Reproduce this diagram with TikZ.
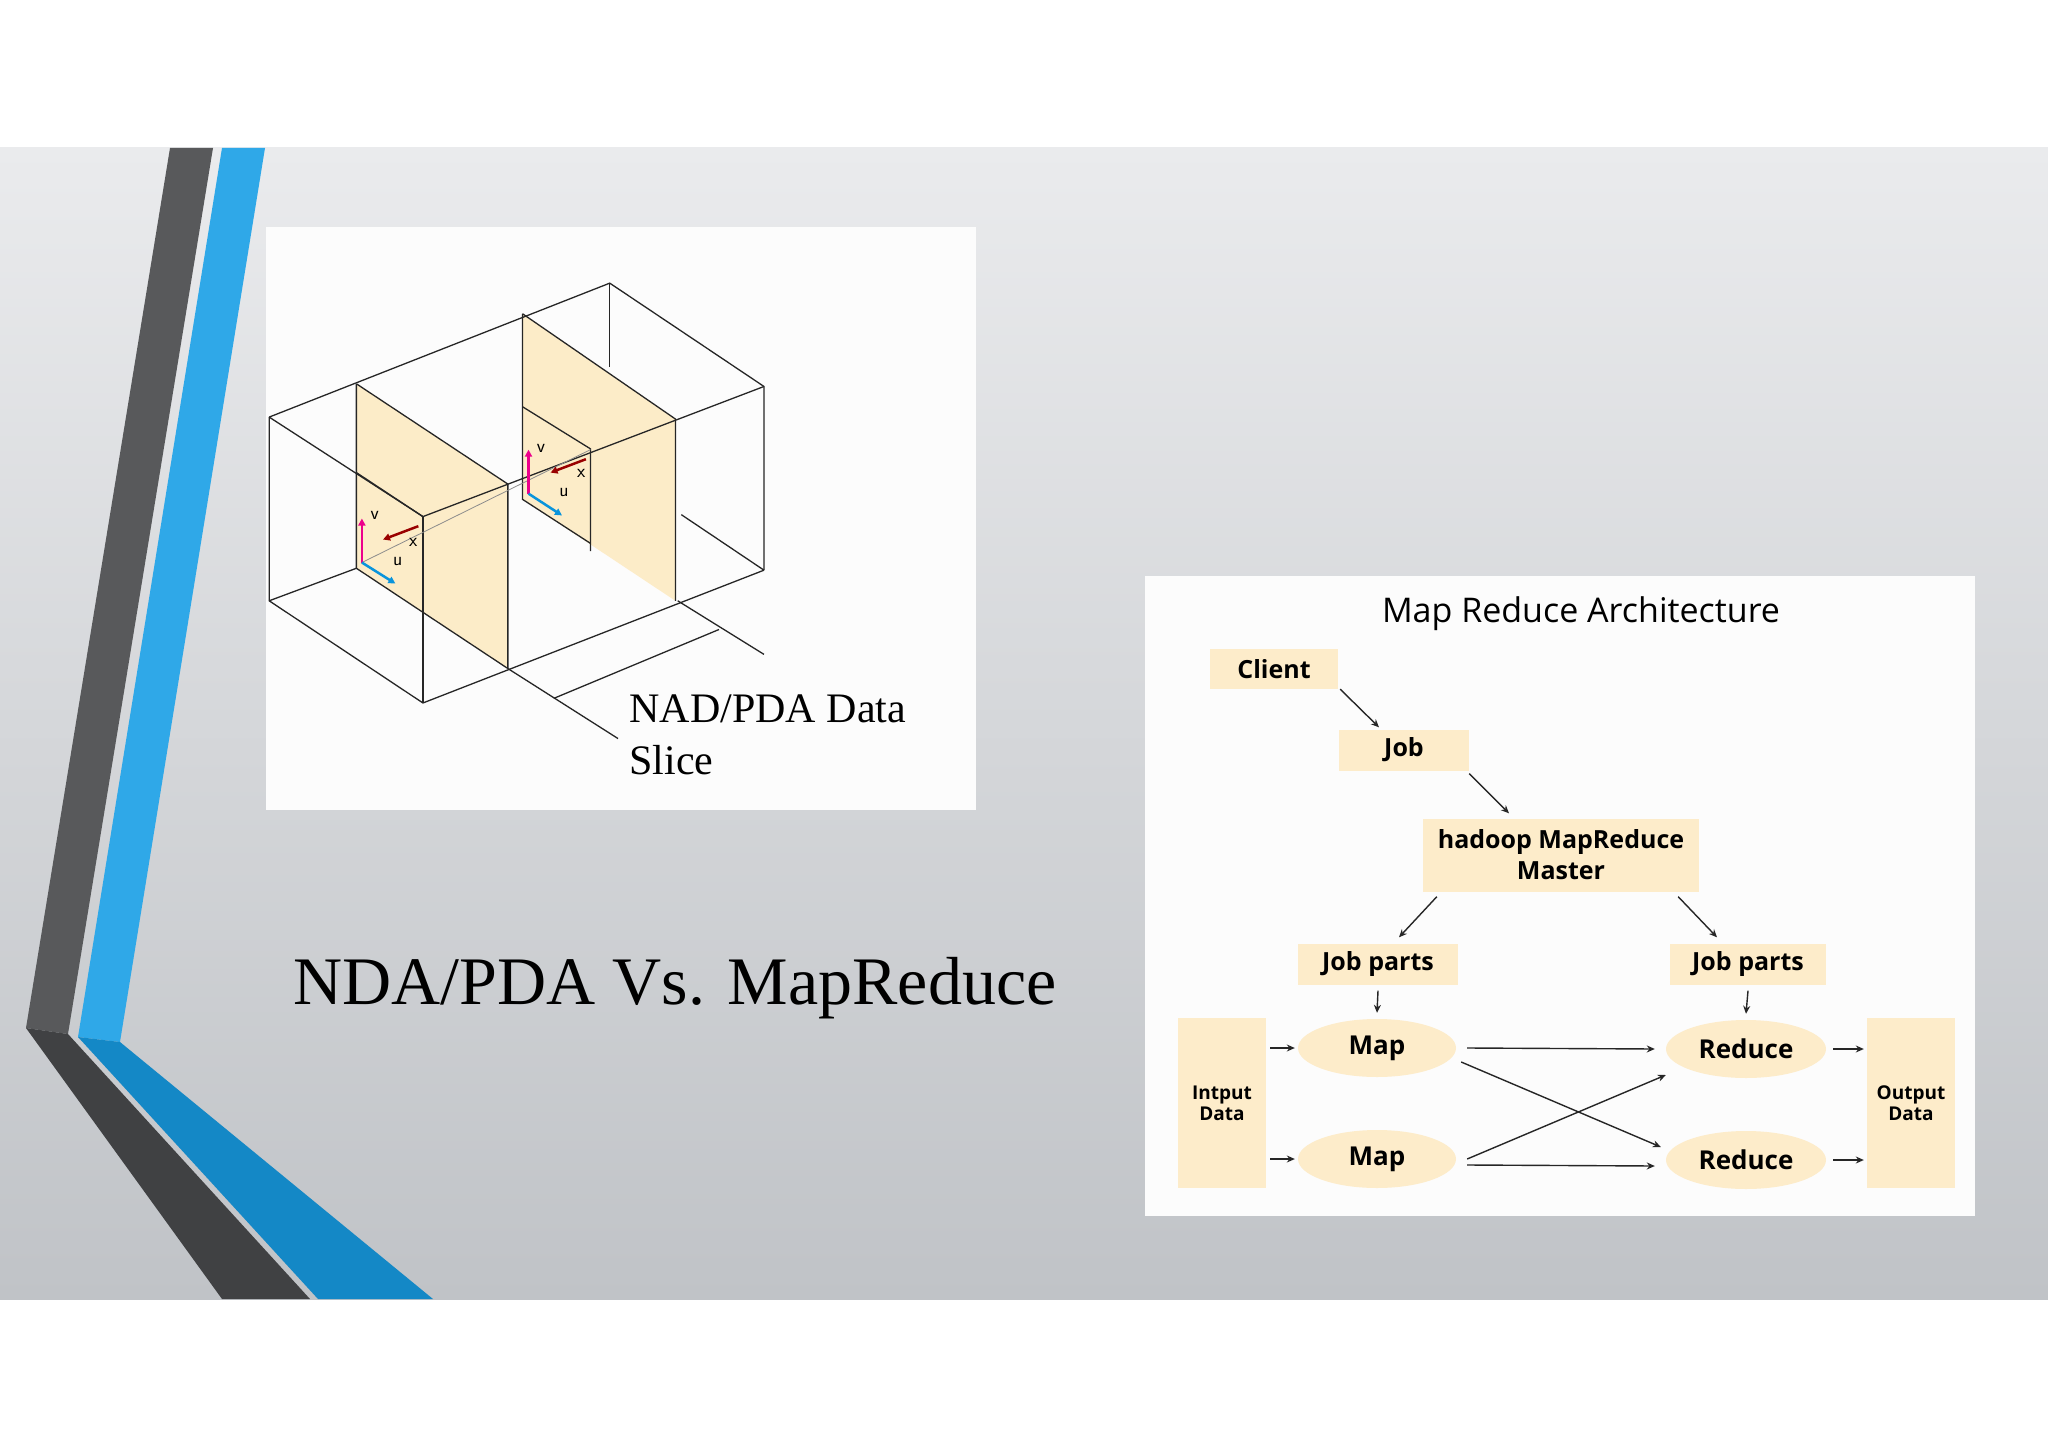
\documentclass[tikz,border=0pt]{standalone}
\usepackage{fontspec}
\setmainfont{Liberation Serif}
\newfontfamily\osans{Open Sans}
\usetikzlibrary{arrows.meta,shapes.geometric}
\definecolor{beige}{RGB}{253,236,202}
\definecolor{slicefill}{RGB}{252,236,200}
\definecolor{darkstripe}{RGB}{88,89,91}
\definecolor{darkstripeB}{RGB}{64,65,67}
\definecolor{bluestripe}{RGB}{47,168,232}
\definecolor{bluestripeB}{RGB}{20,136,198}
\begin{document}
\begin{tikzpicture}[x=1pt,y=-1pt,
  box/.style={fill=beige,inner sep=0pt,font=\osans\bfseries\fontsize{25}{31}\selectfont,align=center},
  ell/.style={ellipse,fill=beige,inner sep=0pt,minimum width=158,minimum height=58,font=\osans\bfseries\fontsize{26}{30}\selectfont},
  arr/.style={-{Stealth[length=8,width=7]},line width=1.4pt,black!85},
  edge/.style={line width=1.3pt,black!85},
  ax/.style={-{Triangle[length=7,width=7]},line width=2.5pt},
  axl/.style={font=\sffamily\fontsize{19}{19}\selectfont}]
\useasboundingbox (0,0) rectangle (2048,1447);
\fill[white] (0,0) rectangle (2048,1447);
\shade[top color={rgb,255:red,234;green,235;blue,237},bottom color={rgb,255:red,192;green,195;blue,199}] (0,148) rectangle (2048,1299);
% stripes
\fill[darkstripe] (170,148) -- (213,148) -- (68,1034) -- (26,1028) -- cycle;
\fill[darkstripeB] (26,1028) -- (68,1034) -- (310,1299) -- (222,1299) -- cycle;
\fill[bluestripe] (222,148) -- (265,148) -- (120,1042) -- (78,1037) -- cycle;
\fill[bluestripeB] (78,1037) -- (120,1042) -- (433,1299) -- (318,1299) -- cycle;
% left picture
\fill[white!99!black] (266,227) rectangle (976,810);
\begin{scope}[shift={(260,220)},xscale=0.459,yscale=0.3827]
\fill[slicefill] (210,428) -- (540,690) -- (540,1172) -- (210,910) -- cycle;
\fill[slicefill] (572,245) -- (905,520) -- (905,995) -- (572,730) -- cycle;
\draw[edge] (20,515) -- (762,165) -- (1098,435) -- (1098,915);
\draw[edge] (20,515) -- (20,995) -- (355,1262) -- (1098,915);
\draw[edge] (20,515) -- (355,775) -- (1098,435);
\draw[edge] (355,775) -- (355,1262);
\draw[edge] (762,165) -- (762,385);
\draw[edge] (20,995) -- (210,910);
\draw[edge] (918,770) -- (1098,915);
\draw[edge] (210,428) -- (540,690) -- (540,1172);
\draw[edge] (210,428) -- (210,910) -- (540,1172);
\draw[edge] (210,660) -- (355,775);
\draw[edge] (572,245) -- (905,520) -- (905,995);
\draw[edge] (572,245) -- (572,730) -- (720,845);
\draw[edge] (572,488) -- (720,598) -- (720,865);
\draw[line width=0.8pt,black!45] (222,895) -- (720,600);
% axes
\draw[ax,magenta] (222,895) -- (222,780);
\draw[ax,cyan!80!blue] (222,895) -- (295,950);
\draw[ax,red!60!black] (345,800) -- (268,835);
\node[axl] at (250,772) {v};
\node[axl] at (334,842) {x};
\node[axl] at (300,893) {u};
\draw[ax,magenta] (585,715) -- (585,600);
\draw[ax,cyan!80!blue] (585,715) -- (658,772);
\draw[ax,red!60!black] (710,625) -- (633,660);
\node[axl] at (612,596) {v};
\node[axl] at (700,662) {x};
\node[axl] at (662,712) {u};
% dimension
\draw[edge] (910,995) -- (1098,1135);
\draw[edge] (540,1172) -- (780,1355);
\draw[edge] (640,1250) -- (1000,1070);
\end{scope}
\node[anchor=west,font=\fontsize{42}{52}\selectfont,align=left] (slt) at (626,735) {NAD/PDA Data\\Slice};
% title
\node[font=\fontsize{68}{80}\selectfont] (ttl) at (675,988) {NDA/PDA Vs. MapReduce};
% right panel
\fill[white!99!black] (1145,576) rectangle (1975,1216);
\node[font=\osans\fontsize{34}{40}\selectfont] (mrt) at (1581,614) {Map Reduce Architecture};
\node[box,minimum width=128,minimum height=40] (client) at (1274,669) {Client};
\node[box,minimum width=130,minimum height=41] (job) at (1404,750) {Job};
\node[box,minimum width=276,minimum height=73] (master) at (1561,855) {hadoop MapReduce\\Master};
\node[box,minimum width=160,minimum height=41] (jpl) at (1378,964) {Job parts};
\node[box,minimum width=156,minimum height=41] (jpr) at (1748,964) {Job parts};
\node[box,minimum width=88,minimum height=170,font=\osans\bfseries\fontsize{19}{21}\selectfont] (in) at (1222,1103) {Intput\\Data};
\node[box,minimum width=88,minimum height=170,font=\osans\bfseries\fontsize{19}{21}\selectfont] (out) at (1911,1103) {Output\\Data};
\node[ell] (m1) at (1377,1048) {Map};
\node[ell] (m2) at (1377,1159) {Map};
\node[ell,minimum width=160] (r1) at (1746,1049) {Reduce};
\node[ell,minimum width=160] (r2) at (1746,1160) {Reduce};
\draw[arr] ([xshift=2]client.south east) -- ([xshift=-25,yshift=2]job.north);
\draw[arr] ([yshift=-3]job.south east) -- ([xshift=-52,yshift=5]master.north);
\draw[arr] ([xshift=14,yshift=-5]master.south west) -- ([xshift=21,yshift=6]jpl.north);
\draw[arr] ([xshift=-21,yshift=-5]master.south east) -- ([xshift=-31,yshift=6]jpr.north);
\draw[arr] ([yshift=-6]jpl.south) -- ([yshift=6]m1.north);
\draw[arr] ([yshift=-6]jpr.south) -- ([yshift=6]r1.north);
\draw[arr] ([xshift=4]in.east |- m1) -- ([xshift=-3]m1.west);
\draw[arr] ([xshift=4]in.east |- m2) -- ([xshift=-3]m2.west);
\draw[arr] ([xshift=7]r1.east) -- ([xshift=-3]out.west |- r1);
\draw[arr] ([xshift=7]r2.east) -- ([xshift=-3]out.west |- r2);
\draw[arr] ([xshift=11]m1.east) -- ([xshift=-11]r1.west);
\draw[arr] ([xshift=5,yshift=-14]m1.east) -- ([xshift=-5,yshift=13]r2.west);
\draw[arr] ([xshift=11]m2.east) -- ([yshift=-26]r1.west);
\draw[arr] ([xshift=11,yshift=-6]m2.east) -- ([xshift=-11,yshift=-6]r2.west);
\end{tikzpicture}
\end{document}
